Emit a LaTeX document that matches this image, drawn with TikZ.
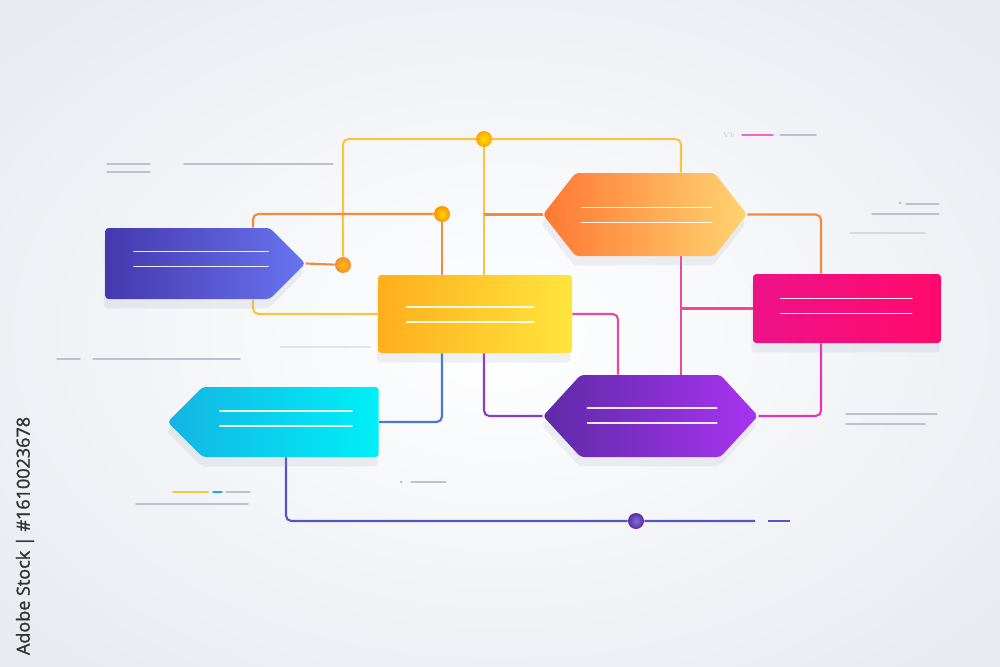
\documentclass[tikz,border=0pt]{standalone}
\usepackage{tikz}
\usepackage{xcolor}
\usepackage{fontspec}
\usetikzlibrary{shapes.symbols,calc,shadows}
\newfontfamily\stockfont[FakeBold=1.5]{Open Sans}

\definecolor{paper}{HTML}{E8ECF1}
\definecolor{blueL}{HTML}{4638AE}
\definecolor{blueR}{HTML}{6874F0}
\definecolor{orngL}{HTML}{FF7833}
\definecolor{orngM}{HTML}{FFA540}
\definecolor{orngR}{HTML}{FFD470}
\definecolor{ylwL}{HTML}{FFAE1C}
\definecolor{ylwR}{HTML}{FFE53C}
\definecolor{pinkL}{HTML}{EE1288}
\definecolor{pinkR}{HTML}{FF0A6C}
\definecolor{cyanL}{HTML}{14B4E2}
\definecolor{cyanR}{HTML}{00F0F8}
\definecolor{prpL}{HTML}{5E2AA6}
\definecolor{prpR}{HTML}{A834F2}
\definecolor{wireylw}{HTML}{F8C446}
\definecolor{wireorng}{HTML}{F28C3C}
\definecolor{wiremag}{HTML}{EC4A96}
\definecolor{wirepink}{HTML}{E834B0}
\definecolor{wireblue}{HTML}{4A78D6}
\definecolor{wireprp}{HTML}{8A3CC8}
\definecolor{wireindigo}{HTML}{5A52C6}
\definecolor{decogray}{HTML}{BCC2CC}
\definecolor{wmgray}{HTML}{333333}
\definecolor{shade}{HTML}{8A96AE}

\pgfdeclarelayer{bg}
\pgfdeclarelayer{wires}
\pgfsetlayers{bg,wires,main}

\tikzset{
  card/.style={inner sep=0pt, rounded corners=2.5pt,
    drop shadow={shadow xshift=-1pt, shadow yshift=-7pt, opacity=0.13, fill=shade}},
  arrowcard/.style={card, signal},
  wire/.style={line width=1.6pt, rounded corners=4pt},
  joint/.style={circle, inner sep=0pt, minimum size=12pt},
  cardline/.style={white, line width=1.4pt, opacity=0.9, line cap=round},
  deco/.style={line width=1pt, decogray, line cap=round}
}

% two light bars on a card: start point, x offset, y offset, length
\newcommand{\cardbars}[4]{%
  \draw[cardline] ($(#1)+(#2,#3)$) -- ++(#4,0);
  \draw[cardline] ($(#1)+(#2,#3+15)$) -- ++(#4,0);
}

\begin{document}
\begin{tikzpicture}[x=0.75pt,y=0.75pt,yscale=-1,xscale=1]

\useasboundingbox (0,0) rectangle (1000,667);
\begin{pgfonlayer}{bg}
\fill[inner color=white, outer color=paper] (-150,-100) rectangle (1150,767);
\end{pgfonlayer}

% cards
\node[arrowcard, signal to=east, signal pointer angle=90, minimum width=150pt, minimum height=53.25pt, left color=blueL, right color=blueR, anchor=west] (blue) at (105,263.5) {};

\node[arrowcard, signal to=east and west, signal pointer angle=104, minimum width=153pt, minimum height=62.25pt, left color=orngL, middle color=orngM, right color=orngR] (orng) at (645,214.5) {};

\node[card, rectangle, minimum width=145.5pt, minimum height=58.5pt, left color=ylwL, right color=ylwR] (ylw) at (475,314) {};

\node[card, rectangle, minimum width=141pt, minimum height=51.75pt, left color=pinkL, right color=pinkR] (pink) at (847,308.5) {};

\node[arrowcard, signal to=west, signal pointer angle=90, minimum width=158.25pt, minimum height=52.5pt, left color=cyanL, right color=cyanR, anchor=east] (cyan) at (379,422) {};

\node[arrowcard, signal to=east and west, signal pointer angle=95, minimum width=161.25pt, minimum height=61.5pt, left color=prpL, right color=prpR] (prp) at (650.5,416) {};

\cardbars{blue.west}{29}{-12}{134}
\cardbars{orng.west}{39}{-7}{130}
\cardbars{ylw.west}{29}{-7}{127}
\cardbars{pink.west}{28}{-10}{131}
\cardbars{cyan.east}{-159}{-11}{132}
\cardbars{prp.west}{45}{-8}{129}

% joints
\node[joint, inner color=yellow!50!orange, outer color=wireorng] (dotA) at (343,265) {};
\node[joint, inner color=yellow!70!orange, outer color=orange!85!yellow] (dotB) at (442,214) {};
\node[joint, inner color=yellow!75!orange, outer color=orange!70!yellow] (dotC) at (484,139) {};
\node[joint, inner color=wireindigo!80!white, outer color=prpL] (dotD) at (636,521) {};

% bends
\coordinate (k1) at (681,139);
\coordinate (k2) at (253,214);
\coordinate (k3) at (618,317);
\coordinate (k4) at (821,213);
\coordinate (k5) at (286,521);
\coordinate (k6) at (755,521);

\begin{pgfonlayer}{wires}
\draw[wire, wireorng] (blue.east) -- (dotA);
\draw[wire, wireylw] (dotA) |- (k1) -- (k1 |- orng.north);
\draw[wire, wireylw] (dotC) -- (dotC |- ylw.north);
\draw[wire, wireorng] (k2 |- blue.north) |- (dotB);
\draw[wire, wireorng] (dotB) -- (dotB |- ylw.north);
\draw[wire, wireorng] (dotC |- orng.west) -- (orng.west);
\draw[wire, wireylw] (k2 |- blue.south) |- (ylw.west);
\draw[wire, wiremag] (ylw.east) -| (k3 |- prp.north);
\draw[wire, wiremag] (k1 |- orng.south) -- (k1 |- prp.north);
\draw[wire, wiremag] (k1 |- pink.west) -- (pink.west);
\draw[wire, wireorng] (orng.east) -| (k4 |- pink.north);
\draw[wire, wirepink] (k4 |- pink.south) |- (prp.east);
\draw[wire, wireblue] (dotB |- ylw.south) |- (cyan.east);
\draw[wire, wireprp] (dotC |- ylw.south) |- (prp.west);
\draw[wire, wireindigo] (k5 |- cyan.south) |- (dotD) -- (k6);
\draw[wire, wireindigo] (768,521) -- (790,521);
\end{pgfonlayer}

% side marks
\draw[deco] (107,164) -- (150,164);
\draw[deco] (107,172) -- (150,172);
\draw[deco] (184,164) -- (333,164);
\draw[deco] (57,359) -- (80,359);
\draw[deco] (93,359) -- (240,359);
\draw[deco, opacity=0.4] (280,347) -- (370,347);
\draw[deco] (136,504) -- (248,504);
\draw[line width=1.5pt, wireylw, line cap=round] (173,492) -- (208,492);
\draw[line width=1.3pt, cyanL, line cap=round] (213,492) -- (222,492);
\draw[deco] (226,492) -- (250,492);
\draw[deco] (411,482) -- (446,482);
\fill[decogray] (401,482) circle (1.5);
\draw[deco, magenta!60] (742,135) -- (773,135);
\draw[deco] (780,135) -- (816,135);
\node[font=\tiny, text=decogray, inner sep=0pt] (vb) at (729,135) {Vb};
\fill[decogray] (900,203) circle (1.5);
\draw[deco] (906,204) -- (939,204);
\draw[deco] (872,214) -- (939,214);
\draw[deco, opacity=0.5] (850,233) -- (925,233);
\draw[deco] (846,414) -- (937,414);
\draw[deco] (846,424) -- (925,424);

% stock id
\node[rotate=90, font=\stockfont\fontsize{13.5}{13.5}\selectfont, text=wmgray] (stock) at (25,536) {Adobe Stock | \#1610023678};

\end{tikzpicture}
\end{document}
